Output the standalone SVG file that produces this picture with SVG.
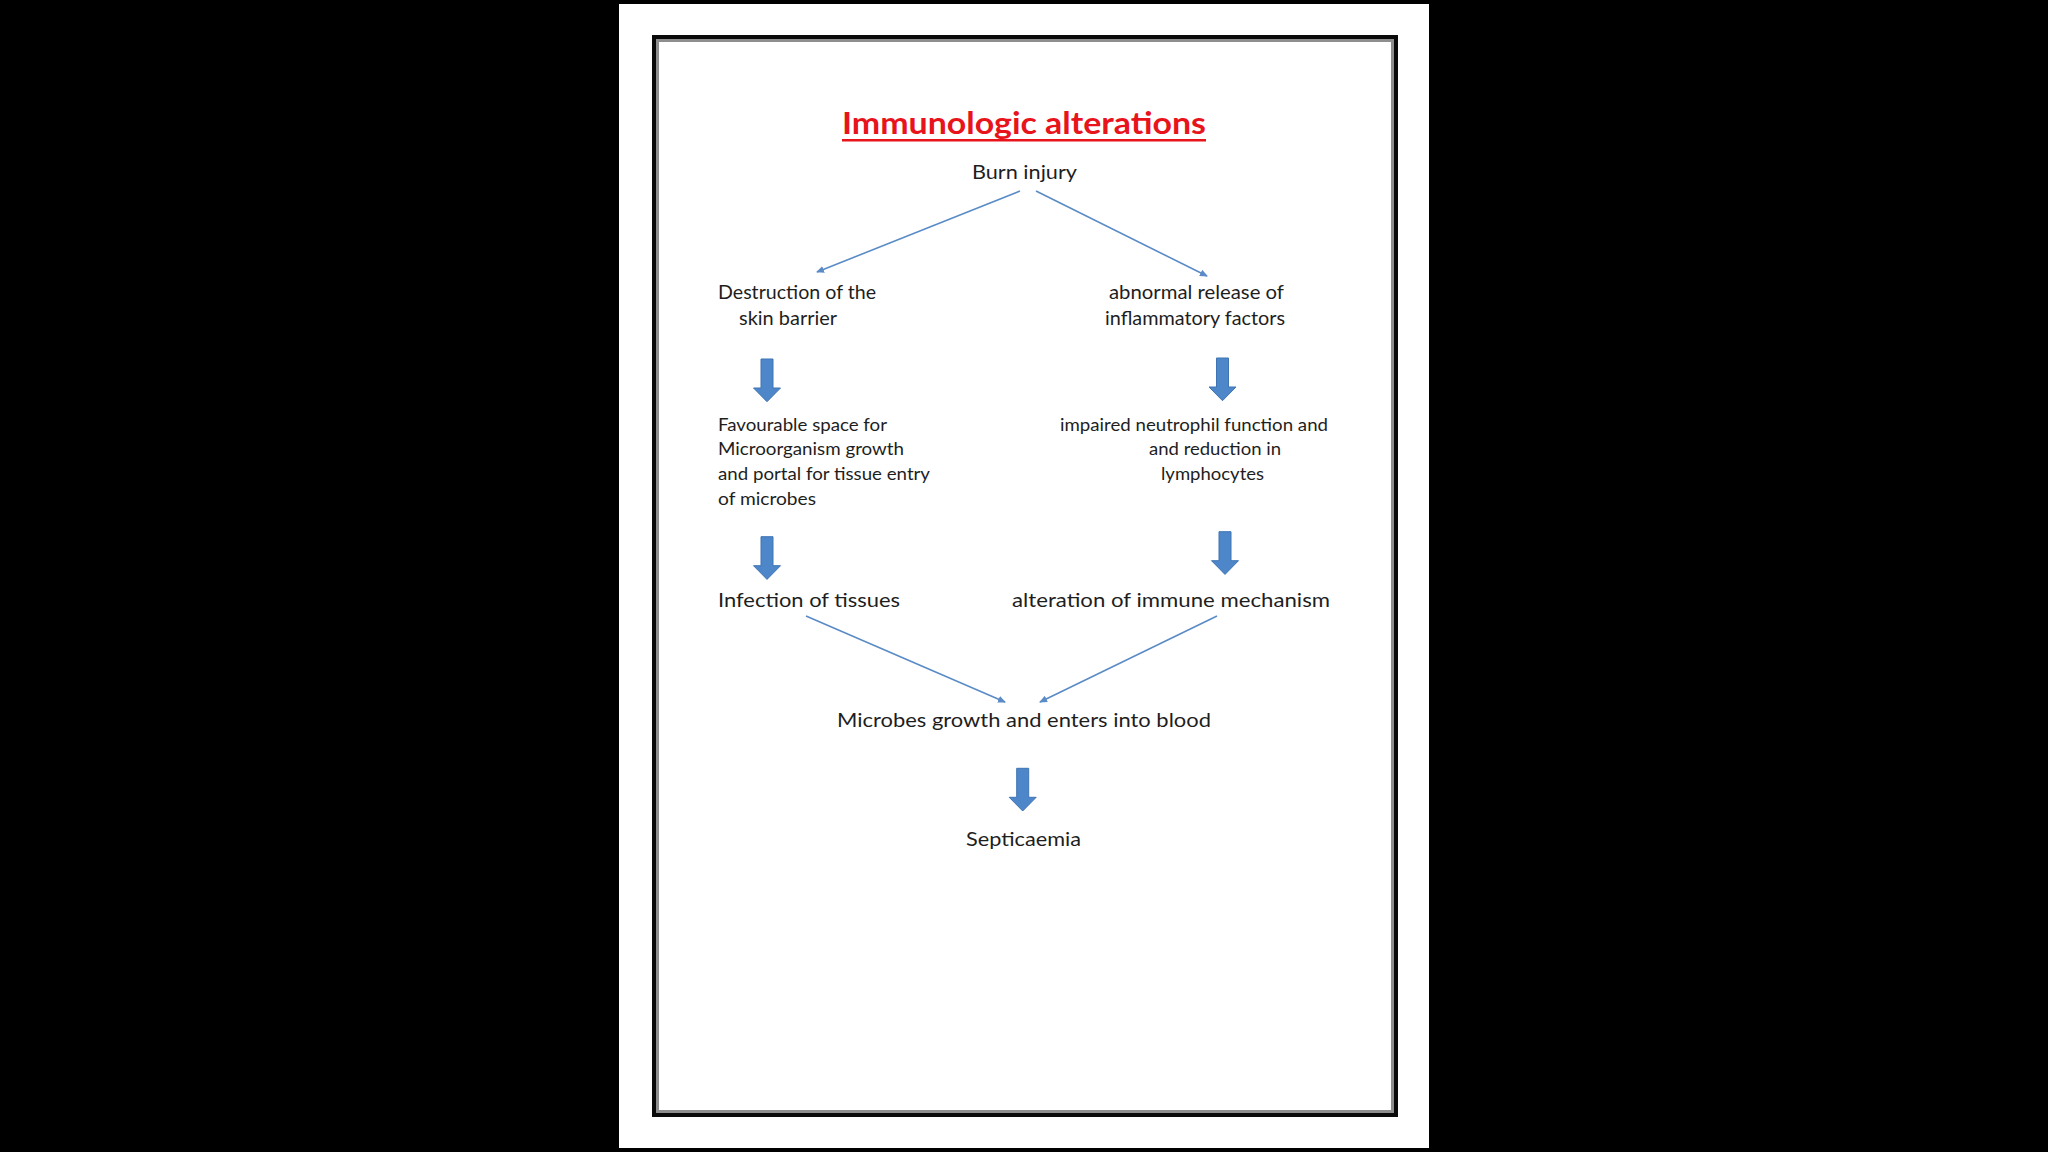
<svg xmlns="http://www.w3.org/2000/svg" xmlns:xlink="http://www.w3.org/1999/xlink" width="2048" height="1152" viewBox="0 0 2048 1152">
<style>
.t{font-family:Lato,"Liberation Sans",sans-serif;fill:#1e1e1e;font-size:19px}
.s{font-size:18px}
.ttl{font-family:Lato,"Liberation Sans",sans-serif;font-weight:bold;font-size:30px;fill:#e8141c}
.ln{stroke:#5a8bc6;stroke-width:1.6;fill:none}
.blk{fill:#4d87c9;stroke:#3f74b3;stroke-width:1}
</style>
<defs>
<marker id="ah" markerWidth="8" markerHeight="8" refX="7" refY="4" orient="auto" markerUnits="userSpaceOnUse">
<path d="M0,0.5 L8,4 L0,7.5 Z" fill="#5a8bc6"/>
</marker>
<path id="barrow" d="M-6,0 L6,0 L6,29 L13.5,29 L0,42.7 L-13.5,29 L-6,29 Z"/>
</defs>
<rect x="0" y="0" width="2048" height="1152" fill="#000"/>
<rect x="619" y="4" width="810" height="1144" fill="#fff"/>
<rect x="654" y="37" width="742" height="1078" fill="none" stroke="#0a0a0a" stroke-width="4"/>
<rect x="657.5" y="40.5" width="735" height="1071" fill="none" stroke="#8e8e8e" stroke-width="3"/>

<g id="title">
<text class="ttl" x="842" y="134" textLength="364" lengthAdjust="spacingAndGlyphs">Immunologic alterations</text>
<rect x="842" y="139" width="364" height="2.5" fill="#e8141c"/>
</g>

<g id="connectors">
<line class="ln" x1="1020" y1="191" x2="817" y2="272" marker-end="url(#ah)"/>
<line class="ln" x1="1036" y1="191" x2="1207" y2="276" marker-end="url(#ah)"/>
<line class="ln" x1="806" y1="616" x2="1005" y2="702" marker-end="url(#ah)"/>
<line class="ln" x1="1217" y1="616" x2="1040" y2="702" marker-end="url(#ah)"/>
<use xlink:href="#barrow" href="#barrow" class="blk" transform="translate(767,359)"/>
<use xlink:href="#barrow" href="#barrow" class="blk" transform="translate(1222.5,358)"/>
<use xlink:href="#barrow" href="#barrow" class="blk" transform="translate(767,536.7)"/>
<use xlink:href="#barrow" href="#barrow" class="blk" transform="translate(1225,531.7)"/>
<use xlink:href="#barrow" href="#barrow" class="blk" transform="translate(1022.7,768.3)"/>
</g>

<g id="burn">
<text class="t" x="972" y="179" textLength="105" lengthAdjust="spacingAndGlyphs">Burn injury</text>
</g>
<g id="destruction">
<text class="t" x="718" y="299" textLength="158" lengthAdjust="spacingAndGlyphs">Destruction of the</text>
<text class="t" x="739" y="325" textLength="98" lengthAdjust="spacingAndGlyphs">skin barrier</text>
</g>
<g id="abnormal">
<text class="t" x="1109" y="299" textLength="175" lengthAdjust="spacingAndGlyphs">abnormal release of</text>
<text class="t" x="1105" y="325" textLength="180" lengthAdjust="spacingAndGlyphs">inflammatory factors</text>
</g>
<g id="favourable">
<text class="t s" x="718" y="431" textLength="169" lengthAdjust="spacingAndGlyphs">Favourable space for</text>
<text class="t s" x="718" y="455" textLength="186" lengthAdjust="spacingAndGlyphs">Microorganism growth</text>
<text class="t s" x="718" y="480" textLength="212" lengthAdjust="spacingAndGlyphs">and portal for tissue entry</text>
<text class="t s" x="718" y="505" textLength="98" lengthAdjust="spacingAndGlyphs">of microbes</text>
</g>
<g id="impaired">
<text class="t s" x="1060" y="431" textLength="268" lengthAdjust="spacingAndGlyphs">impaired neutrophil function and</text>
<text class="t s" x="1149" y="455" textLength="132" lengthAdjust="spacingAndGlyphs">and reduction in</text>
<text class="t s" x="1161" y="480" textLength="103" lengthAdjust="spacingAndGlyphs">lymphocytes</text>
</g>
<g id="infection">
<text class="t" x="718" y="607" textLength="182" lengthAdjust="spacingAndGlyphs">Infection of tissues</text>
</g>
<g id="alteration">
<text class="t" x="1012" y="607" textLength="318" lengthAdjust="spacingAndGlyphs">alteration of immune mechanism</text>
</g>
<g id="microbes">
<text class="t" x="837" y="727" textLength="374" lengthAdjust="spacingAndGlyphs">Microbes growth and enters into blood</text>
</g>
<g id="septicaemia">
<text class="t" x="966" y="846" textLength="115" lengthAdjust="spacingAndGlyphs">Septicaemia</text>
</g>
</svg>
